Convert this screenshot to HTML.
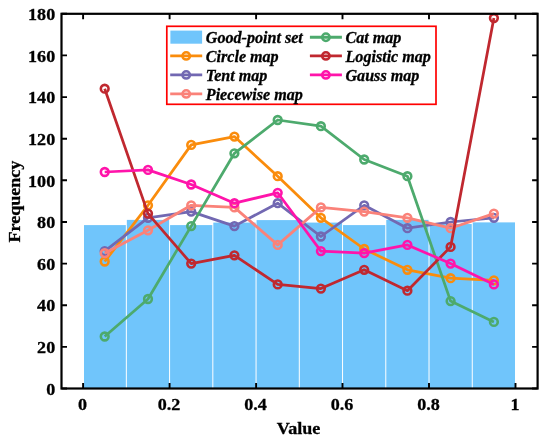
<!DOCTYPE html><html><head><meta charset="utf-8"><title>Frequency</title>
<style>html,body{margin:0;padding:0;background:#fff}svg{display:block}text{font-family:"Liberation Serif",serif;font-weight:bold;fill:#000;stroke:#000;stroke-width:0.3px}</style></head><body>
<svg width="550" height="446" viewBox="0 0 550 446">
<rect width="550" height="446" fill="#fff"/>
<rect x="84.00" y="225.09" width="41.84" height="163.41" fill="#70C5FB"/>
<rect x="126.84" y="219.88" width="42.24" height="168.62" fill="#70C5FB"/>
<rect x="170.08" y="225.09" width="42.24" height="163.41" fill="#70C5FB"/>
<rect x="213.32" y="222.59" width="42.24" height="165.91" fill="#70C5FB"/>
<rect x="256.56" y="220.09" width="42.24" height="168.41" fill="#70C5FB"/>
<rect x="299.80" y="222.59" width="42.24" height="165.91" fill="#70C5FB"/>
<rect x="343.04" y="225.09" width="42.24" height="163.41" fill="#70C5FB"/>
<rect x="386.28" y="219.88" width="42.24" height="168.62" fill="#70C5FB"/>
<rect x="429.52" y="224.05" width="42.24" height="164.45" fill="#70C5FB"/>
<rect x="472.76" y="222.38" width="42.24" height="166.12" fill="#70C5FB"/>
<g fill="none" stroke="#FA8C0C" stroke-width="2.75" stroke-linejoin="round"><polyline points="104.7,261.5 148.0,205.3 191.2,144.9 234.4,136.6 277.7,176.2 320.9,217.8 364.2,249.0 407.4,269.8 450.6,278.2 493.9,280.3"/>
<circle cx="104.7" cy="261.5" r="3.85" stroke-width="2.6"/>
<circle cx="148.0" cy="205.3" r="3.85" stroke-width="2.6"/>
<circle cx="191.2" cy="144.9" r="3.85" stroke-width="2.6"/>
<circle cx="234.4" cy="136.6" r="3.85" stroke-width="2.6"/>
<circle cx="277.7" cy="176.2" r="3.85" stroke-width="2.6"/>
<circle cx="320.9" cy="217.8" r="3.85" stroke-width="2.6"/>
<circle cx="364.2" cy="249.0" r="3.85" stroke-width="2.6"/>
<circle cx="407.4" cy="269.8" r="3.85" stroke-width="2.6"/>
<circle cx="450.6" cy="278.2" r="3.85" stroke-width="2.6"/>
<circle cx="493.9" cy="280.3" r="3.85" stroke-width="2.6"/>
</g>
<g fill="none" stroke="#7268B2" stroke-width="2.75" stroke-linejoin="round"><polyline points="104.7,251.1 148.0,217.8 191.2,211.6 234.4,226.1 277.7,203.2 320.9,236.5 364.2,205.3 407.4,228.2 450.6,222.0 493.9,217.8"/>
<circle cx="104.7" cy="251.1" r="3.85" stroke-width="2.6"/>
<circle cx="148.0" cy="217.8" r="3.85" stroke-width="2.6"/>
<circle cx="191.2" cy="211.6" r="3.85" stroke-width="2.6"/>
<circle cx="234.4" cy="226.1" r="3.85" stroke-width="2.6"/>
<circle cx="277.7" cy="203.2" r="3.85" stroke-width="2.6"/>
<circle cx="320.9" cy="236.5" r="3.85" stroke-width="2.6"/>
<circle cx="364.2" cy="205.3" r="3.85" stroke-width="2.6"/>
<circle cx="407.4" cy="228.2" r="3.85" stroke-width="2.6"/>
<circle cx="450.6" cy="222.0" r="3.85" stroke-width="2.6"/>
<circle cx="493.9" cy="217.8" r="3.85" stroke-width="2.6"/>
</g>
<g fill="none" stroke="#FA8279" stroke-width="2.75" stroke-linejoin="round"><polyline points="104.7,253.2 148.0,230.3 191.2,205.3 234.4,207.4 277.7,244.9 320.9,207.4 364.2,211.6 407.4,217.8 450.6,228.2 493.9,213.6"/>
<circle cx="104.7" cy="253.2" r="3.85" stroke-width="2.6"/>
<circle cx="148.0" cy="230.3" r="3.85" stroke-width="2.6"/>
<circle cx="191.2" cy="205.3" r="3.85" stroke-width="2.6"/>
<circle cx="234.4" cy="207.4" r="3.85" stroke-width="2.6"/>
<circle cx="277.7" cy="244.9" r="3.85" stroke-width="2.6"/>
<circle cx="320.9" cy="207.4" r="3.85" stroke-width="2.6"/>
<circle cx="364.2" cy="211.6" r="3.85" stroke-width="2.6"/>
<circle cx="407.4" cy="217.8" r="3.85" stroke-width="2.6"/>
<circle cx="450.6" cy="228.2" r="3.85" stroke-width="2.6"/>
<circle cx="493.9" cy="213.6" r="3.85" stroke-width="2.6"/>
</g>
<g fill="none" stroke="#4DAA6D" stroke-width="2.75" stroke-linejoin="round"><polyline points="104.7,336.5 148.0,299.0 191.2,226.1 234.4,153.3 277.7,120.0 320.9,126.2 364.2,159.5 407.4,176.2 450.6,301.1 493.9,321.9"/>
<circle cx="104.7" cy="336.5" r="3.85" stroke-width="2.6"/>
<circle cx="148.0" cy="299.0" r="3.85" stroke-width="2.6"/>
<circle cx="191.2" cy="226.1" r="3.85" stroke-width="2.6"/>
<circle cx="234.4" cy="153.3" r="3.85" stroke-width="2.6"/>
<circle cx="277.7" cy="120.0" r="3.85" stroke-width="2.6"/>
<circle cx="320.9" cy="126.2" r="3.85" stroke-width="2.6"/>
<circle cx="364.2" cy="159.5" r="3.85" stroke-width="2.6"/>
<circle cx="407.4" cy="176.2" r="3.85" stroke-width="2.6"/>
<circle cx="450.6" cy="301.1" r="3.85" stroke-width="2.6"/>
<circle cx="493.9" cy="321.9" r="3.85" stroke-width="2.6"/>
</g>
<g fill="none" stroke="#C0282F" stroke-width="2.75" stroke-linejoin="round"><polyline points="104.7,88.7 148.0,213.6 191.2,263.6 234.4,255.3 277.7,284.4 320.9,288.6 364.2,269.8 407.4,290.7 450.6,246.9 493.9,18.0"/>
<circle cx="104.7" cy="88.7" r="3.85" stroke-width="2.6"/>
<circle cx="148.0" cy="213.6" r="3.85" stroke-width="2.6"/>
<circle cx="191.2" cy="263.6" r="3.85" stroke-width="2.6"/>
<circle cx="234.4" cy="255.3" r="3.85" stroke-width="2.6"/>
<circle cx="277.7" cy="284.4" r="3.85" stroke-width="2.6"/>
<circle cx="320.9" cy="288.6" r="3.85" stroke-width="2.6"/>
<circle cx="364.2" cy="269.8" r="3.85" stroke-width="2.6"/>
<circle cx="407.4" cy="290.7" r="3.85" stroke-width="2.6"/>
<circle cx="450.6" cy="246.9" r="3.85" stroke-width="2.6"/>
<circle cx="493.9" cy="18.0" r="3.85" stroke-width="2.6"/>
</g>
<g fill="none" stroke="#FF14AA" stroke-width="2.75" stroke-linejoin="round"><polyline points="104.7,172.0 148.0,169.9 191.2,184.5 234.4,203.2 277.7,192.8 320.9,251.1 364.2,253.2 407.4,244.9 450.6,263.6 493.9,284.4"/>
<circle cx="104.7" cy="172.0" r="3.85" stroke-width="2.6"/>
<circle cx="148.0" cy="169.9" r="3.85" stroke-width="2.6"/>
<circle cx="191.2" cy="184.5" r="3.85" stroke-width="2.6"/>
<circle cx="234.4" cy="203.2" r="3.85" stroke-width="2.6"/>
<circle cx="277.7" cy="192.8" r="3.85" stroke-width="2.6"/>
<circle cx="320.9" cy="251.1" r="3.85" stroke-width="2.6"/>
<circle cx="364.2" cy="253.2" r="3.85" stroke-width="2.6"/>
<circle cx="407.4" cy="244.9" r="3.85" stroke-width="2.6"/>
<circle cx="450.6" cy="263.6" r="3.85" stroke-width="2.6"/>
<circle cx="493.9" cy="284.4" r="3.85" stroke-width="2.6"/>
</g>
<g stroke="#000" stroke-width="1.9" fill="none">
<path d="M83.1 388.5 v-5.5 M83.1 13.8 v5.5"/>
<path d="M169.6 388.5 v-5.5 M169.6 13.8 v5.5"/>
<path d="M256.1 388.5 v-5.5 M256.1 13.8 v5.5"/>
<path d="M342.5 388.5 v-5.5 M342.5 13.8 v5.5"/>
<path d="M429.0 388.5 v-5.5 M429.0 13.8 v5.5"/>
<path d="M515.5 388.5 v-5.5 M515.5 13.8 v5.5"/>
<path d="M61.5 388.5 h5.5 M537.6 388.5 h-5.5"/>
<path d="M61.5 346.9 h5.5 M537.6 346.9 h-5.5"/>
<path d="M61.5 305.2 h5.5 M537.6 305.2 h-5.5"/>
<path d="M61.5 263.6 h5.5 M537.6 263.6 h-5.5"/>
<path d="M61.5 222.0 h5.5 M537.6 222.0 h-5.5"/>
<path d="M61.5 180.3 h5.5 M537.6 180.3 h-5.5"/>
<path d="M61.5 138.7 h5.5 M537.6 138.7 h-5.5"/>
<path d="M61.5 97.1 h5.5 M537.6 97.1 h-5.5"/>
<path d="M61.5 55.4 h5.5 M537.6 55.4 h-5.5"/>
<path d="M61.5 13.8 h5.5 M537.6 13.8 h-5.5"/>
</g>
<rect x="61.5" y="13.8" width="476.1" height="374.7" fill="none" stroke="#000" stroke-width="2.2"/>
<text transform="translate(55.2 394.7) scale(1.046 1)" font-size="17.3" text-anchor="end">0</text>
<text transform="translate(55.2 353.1) scale(1.046 1)" font-size="17.3" text-anchor="end">20</text>
<text transform="translate(55.2 311.4) scale(1.046 1)" font-size="17.3" text-anchor="end">40</text>
<text transform="translate(55.2 269.8) scale(1.046 1)" font-size="17.3" text-anchor="end">60</text>
<text transform="translate(55.2 228.2) scale(1.046 1)" font-size="17.3" text-anchor="end">80</text>
<text transform="translate(55.2 186.5) scale(1.046 1)" font-size="17.3" text-anchor="end">100</text>
<text transform="translate(55.2 144.9) scale(1.046 1)" font-size="17.3" text-anchor="end">120</text>
<text transform="translate(55.2 103.3) scale(1.046 1)" font-size="17.3" text-anchor="end">140</text>
<text transform="translate(55.2 61.6) scale(1.046 1)" font-size="17.3" text-anchor="end">160</text>
<text transform="translate(55.2 20.0) scale(1.046 1)" font-size="17.3" text-anchor="end">180</text>
<text transform="translate(82.6 410.3) scale(1.046 1)" font-size="17.3" text-anchor="middle">0</text>
<text transform="translate(169.1 410.3) scale(1.046 1)" font-size="17.3" text-anchor="middle">0.2</text>
<text transform="translate(255.6 410.3) scale(1.046 1)" font-size="17.3" text-anchor="middle">0.4</text>
<text transform="translate(342.0 410.3) scale(1.046 1)" font-size="17.3" text-anchor="middle">0.6</text>
<text transform="translate(428.5 410.3) scale(1.046 1)" font-size="17.3" text-anchor="middle">0.8</text>
<text transform="translate(515.0 410.3) scale(1.046 1)" font-size="17.3" text-anchor="middle">1</text>
<text transform="translate(298.5 433.5) scale(1.046 1)" font-size="17.3" text-anchor="middle">Value</text>
<text transform="translate(19.8 201.6) rotate(-90) scale(1.046 1)" font-size="17.3" text-anchor="middle">Frequency</text>
<rect x="166.8" y="26.3" width="269.2" height="78" fill="#fff" stroke="#FF0000" stroke-width="1.7"/>
<rect x="170.4" y="30.6" width="31.7" height="13.1" fill="#70C5FB"/>
<text x="205.8" y="42.9" font-size="16.1" font-style="italic">Good-point set</text>
<g fill="none" stroke="#FA8C0C" stroke-width="2.9"><path d="M170.2 55.9 h32"/><circle cx="186.2" cy="55.9" r="3.7" stroke-width="2.5"/></g>
<text x="205.79999999999998" y="61.5" font-size="16.1" font-style="italic">Circle map</text>
<g fill="none" stroke="#7268B2" stroke-width="2.9"><path d="M170.2 74.9 h32"/><circle cx="186.2" cy="74.9" r="3.7" stroke-width="2.5"/></g>
<text x="205.79999999999998" y="80.5" font-size="16.1" font-style="italic">Tent map</text>
<g fill="none" stroke="#FA8279" stroke-width="2.9"><path d="M170.2 93.9 h32"/><circle cx="186.2" cy="93.9" r="3.7" stroke-width="2.5"/></g>
<text x="205.79999999999998" y="99.5" font-size="16.1" font-style="italic">Piecewise map</text>
<g fill="none" stroke="#4DAA6D" stroke-width="2.9"><path d="M309.9 37.3 h32"/><circle cx="325.9" cy="37.3" r="3.7" stroke-width="2.5"/></g>
<text x="345.5" y="42.9" font-size="16.1" font-style="italic">Cat map</text>
<g fill="none" stroke="#C0282F" stroke-width="2.9"><path d="M309.9 55.9 h32"/><circle cx="325.9" cy="55.9" r="3.7" stroke-width="2.5"/></g>
<text x="345.5" y="61.5" font-size="16.1" font-style="italic">Logistic map</text>
<g fill="none" stroke="#FF14AA" stroke-width="2.9"><path d="M309.9 74.9 h32"/><circle cx="325.9" cy="74.9" r="3.7" stroke-width="2.5"/></g>
<text x="345.5" y="80.5" font-size="16.1" font-style="italic">Gauss map</text>
</svg></body></html>
